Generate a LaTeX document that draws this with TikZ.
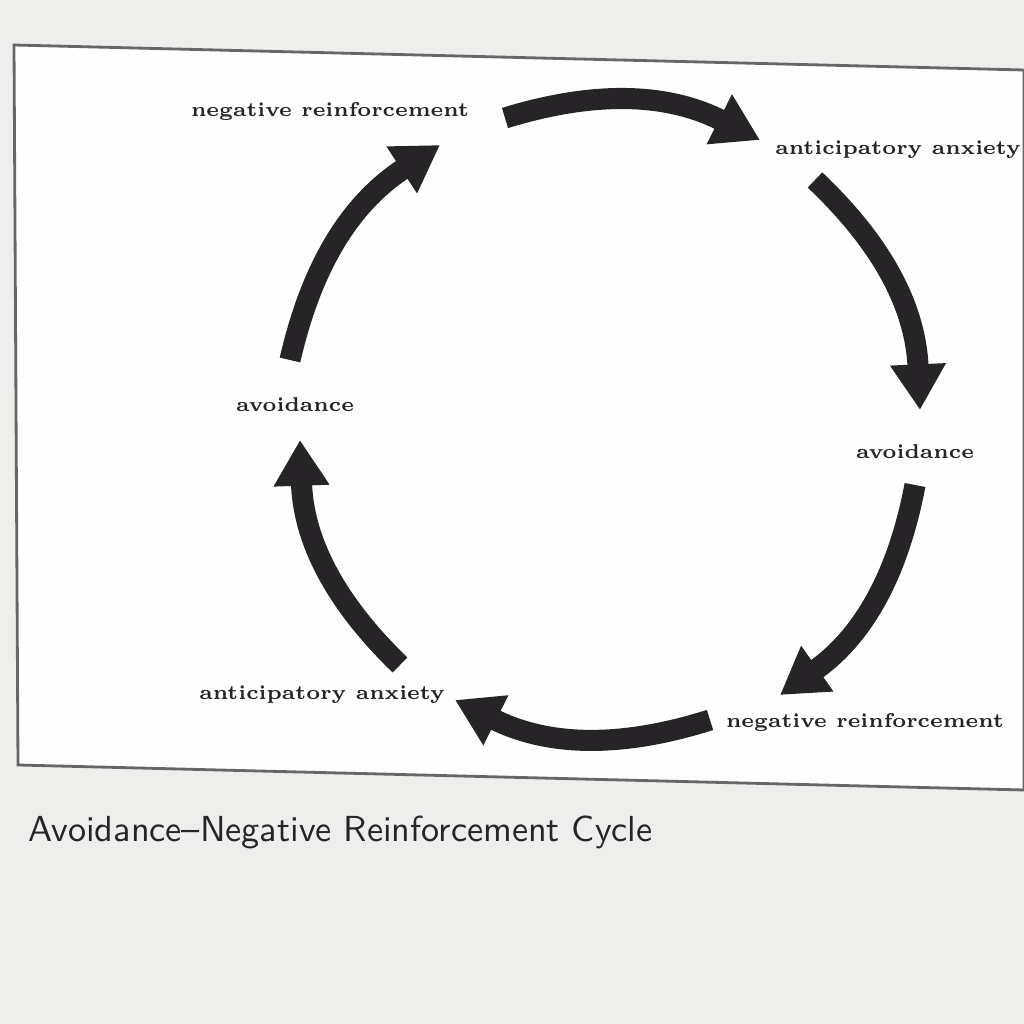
\documentclass[tikz,border=0pt]{standalone}
\usetikzlibrary{arrows.meta}
\definecolor{ink}{RGB}{38,36,38}
\definecolor{paper}{RGB}{238,238,236}
\tikzset{
  lab/.style={font=\fontsize{5.7}{7}\selectfont\bfseries, text=ink},
  cyc/.style={ink, line width=6pt, bend left=22,
    -{Triangle[length=13pt,width=15pt]}}
}
\begin{document}
\begin{tikzpicture}
\useasboundingbox[fill=paper] (0,0) rectangle (10.24,10.24);
% frame
\draw[ink!70, fill=white!96!paper, line width=0.8pt]
  (0.14,9.79) -- (10.24,9.54) -- (10.24,2.34) -- (0.18,2.59) -- cycle;
% labels
\node[lab] (nrtop) at (3.30,9.12) {negative reinforcement};
\node[lab] (aaright) at (8.98,8.74) {anticipatory anxiety};
\node[lab] (avright) at (9.15,5.72) {avoidance};
\node[lab] (nrbot) at (8.65,3.01) {negative reinforcement};
\node[lab] (aaleft) at (3.22,3.29) {anticipatory anxiety};
\node[lab] (avleft) at (2.95,6.19) {avoidance};
% arrow ends
\coordinate (a1) at (5.05,9.06);
\coordinate (b1) at (7.60,8.84);
\coordinate (a2) at (8.15,8.44);
\coordinate (b2) at (9.20,6.14);
\coordinate (a3) at (9.15,5.39);
\coordinate (b3) at (7.80,3.29);
\coordinate (a4) at (7.10,3.04);
\coordinate (b4) at (4.55,3.24);
\coordinate (a5) at (4.00,3.59);
\coordinate (b5) at (3.00,5.84);
\coordinate (a6) at (2.90,6.64);
\coordinate (b6) at (4.40,8.79);
\draw[cyc] (a1) to (b1);
\draw[cyc] (a2) to (b2);
\draw[cyc] (a3) to (b3);
\draw[cyc] (a4) to (b4);
\draw[cyc] (a5) to (b5);
\draw[cyc] (a6) to (b6);
% caption
\node[anchor=west, font=\sffamily\fontsize{10.3}{12}\selectfont, text=ink] (cap) at (0.16,1.92)
  {Avoidance--Negative Reinforcement Cycle};
\end{tikzpicture}
\end{document}
